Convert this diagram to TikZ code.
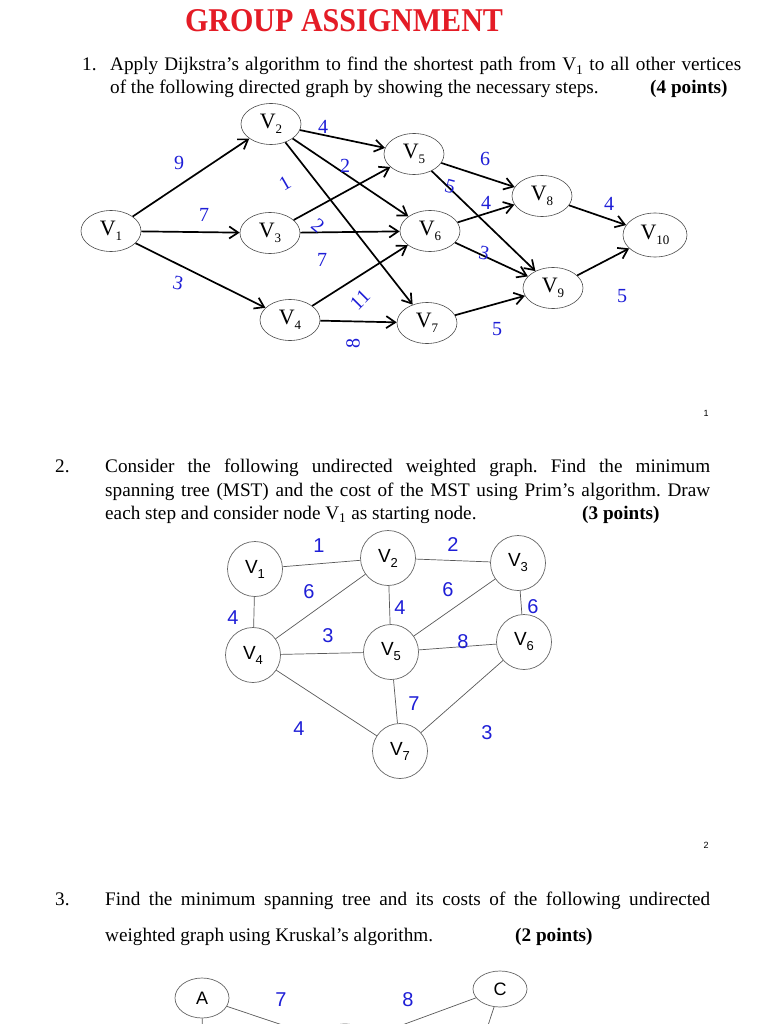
\documentclass[tikz,border=0pt]{standalone}
\usepackage{fontspec}
\setmainfont{Liberation Serif}
\newfontfamily\sansf{Liberation Sans}
\usepackage{graphicx}
\usetikzlibrary{shapes.geometric,arrows.meta}
\definecolor{wblue}{RGB}{30,30,215}
\definecolor{tred}{RGB}{228,28,38}
\newcommand{\vsubr}[1]{V\raisebox{-5pt}{\fontsize{13}{13}\selectfont #1}}
\newcommand{\vsubs}[1]{V\raisebox{-5pt}{\fontsize{13}{13}\selectfont #1}}
\frenchspacing
\begin{document}
\begin{tikzpicture}[x=1pt,y=-1pt,
  txt/.style={anchor=base west, inner sep=0, font=\fontsize{19.2}{23}\selectfont},
  dnode/.style={ellipse, draw=black!70, line width=0.6pt, minimum width=60pt, minimum height=41pt, inner sep=0, font=\fontsize{22}{26}\selectfont},
  darr/.style={-{Straight Barb[length=9pt,width=12pt]}, line width=1.7pt},
  wlab/.style={text=wblue, inner sep=0, font=\fontsize{20}{22}\selectfont},
  pnode/.style={circle, draw=black!60, line width=0.7pt, minimum size=55pt, inner sep=0, font=\sansf\fontsize{19}{22}\selectfont},
  pedge/.style={draw=black!65, line width=0.7pt},
  plab/.style={text=wblue, inner sep=0, font=\sansf\fontsize{20}{24}\selectfont},
  pgnum/.style={inner sep=0, font=\sansf\fontsize{9}{10}\selectfont},
  knode/.style={ellipse, draw=black!60, line width=0.7pt, inner sep=0, font=\sansf\fontsize{18}{22}\selectfont}
]
\useasboundingbox (0,0) rectangle (768,1024);
\fill[white] (0,0) rectangle (768,1024);

% title
\node[anchor=base, inner sep=0, text=tred] (title) at (344,32) {\resizebox{318pt}{22pt}{\bfseries GROUP ASSIGNMENT}};

% problem 1 text
\node[txt] (n1) at (82,71) {1.};
\node[txt] (l1a) at (110,71) {\makebox[631pt][s]{Apply Dijkstra’s algorithm to find the shortest path from V\textsubscript{1} to all other vertices}};
\node[txt] (l1b) at (110,94) {of the following directed graph by showing the necessary steps.};
\node[txt] (pt1) at (650,94) {\textbf{(4 points)}};

% graph 1 nodes
\node[dnode] (v1) at (111,231) {\vsubr{1}};
\node[dnode] (v2) at (271,124) {\vsubr{2}};
\node[dnode] (v3) at (270,233) {\vsubr{3}};
\node[dnode] (v4) at (290,320) {\vsubr{4}};
\node[dnode] (v5) at (414,154) {\vsubr{5}};
\node[dnode] (v6) at (430,231) {\vsubr{6}};
\node[dnode] (v7) at (427,323) {\vsubr{7}};
\node[dnode] (v8) at (542,196) {\vsubr{8}};
\node[dnode] (v9) at (553,288) {\vsubr{9}};
\node[dnode, minimum width=64pt, minimum height=44pt] (v10) at (655,235) {\vsubr{10}};

% graph 1 edges
\draw[darr] (v1) -- (v2);
\draw[darr] (v1) -- (v3);
\draw[darr] (v1) -- (v4);
\draw[darr] (v2) -- (v5);
\draw[darr] (v2) -- (v6);
\draw[darr] (v2) -- (v7);
\draw[darr] (v3) -- (v5);
\draw[darr] (v3) -- (v6);
\draw[darr] (v4) -- (v6);
\draw[darr] (v4) -- (v7);
\draw[darr] (v5) -- (v8);
\draw[darr] (v5) -- (v9);
\draw[darr] (v6) -- (v8);
\draw[darr] (v6) -- (v9);
\draw[darr] (v7) -- (v9);
\draw[darr] (v8) -- (v10);
\draw[darr] (v9) -- (v10);

% graph 1 weights
\node[wlab] (w12) at (179,163) {9};
\node[wlab] (w13) at (204,215) {7};
\node[wlab, rotate=-12] (w14) at (178,283) {3};
\node[wlab] (w25) at (323,127) {4};
\node[wlab, rotate=30] (w27) at (285,183) {1};
\node[wlab] (w26) at (345,166) {2};
\node[wlab, rotate=-40] (w35) at (318,226) {2};
\node[wlab] (w36) at (322,260) {7};
\node[wlab, rotate=45] (w46) at (360,300) {11};
\node[wlab, rotate=90] (w47) at (353,343) {8};
\node[wlab] (w58) at (485,159) {6};
\node[wlab, rotate=-15] (w59) at (450,187) {5};
\node[wlab] (w68) at (486,203) {4};
\node[wlab, rotate=-12] (w69) at (484,253) {3};
\node[wlab] (w810) at (609,204) {4};
\node[wlab] (w910) at (622,296) {5};
\node[wlab] (w79) at (497,329) {5};

\node[pgnum] (pg1) at (706,413) {1};

% problem 2 text
\node[txt] (n2) at (55,472) {2.};
\node[txt] (l2a) at (105,472) {\makebox[605pt][s]{Consider the following undirected weighted graph. Find the minimum}};
\node[txt] (l2b) at (105,496) {\makebox[605pt][s]{spanning tree (MST) and the cost of the MST using Prim’s algorithm. Draw}};
\node[txt] (l2c) at (105,519) {each step and consider node V\textsubscript{1} as starting node.};
\node[txt] (pt2) at (582,519) {\textbf{(3 points)}};

% graph 2
\node[pnode] (p1) at (255,569) {\vsubs{1}};
\node[pnode] (p2) at (388,558) {\vsubs{2}};
\node[pnode] (p3) at (518,563) {\vsubs{3}};
\node[pnode] (p4) at (253,655) {\vsubs{4}};
\node[pnode] (p5) at (391,652) {\vsubs{5}};
\node[pnode] (p6) at (524,642) {\vsubs{6}};
\node[pnode] (p7) at (400,751) {\vsubs{7}};
\draw[pedge] (p1) -- (p2);
\draw[pedge] (p2) -- (p3);
\draw[pedge] (p1) -- (p4);
\draw[pedge] (p2) -- (p4);
\draw[pedge] (p2) -- (p5);
\draw[pedge] (p3) -- (p5);
\draw[pedge] (p3) -- (p6);
\draw[pedge] (p4) -- (p5);
\draw[pedge] (p5) -- (p6);
\draw[pedge] (p4) -- (p7);
\draw[pedge] (p5) -- (p7);
\draw[pedge] (p6) -- (p7);
\node[plab] (q12) at (319,546) {1};
\node[plab] (q23) at (453,545) {2};
\node[plab] (q24) at (309,592) {6};
\node[plab] (q25) at (400,608) {4};
\node[plab] (q35) at (448,590) {6};
\node[plab] (q36) at (533,607) {6};
\node[plab] (q14) at (233,618) {4};
\node[plab] (q45) at (328,636) {3};
\node[plab] (q56) at (463,642) {8};
\node[plab] (q57) at (414,704) {7};
\node[plab] (q47) at (299,729) {4};
\node[plab] (q67) at (487,733) {3};

\node[pgnum] (pg2) at (706,845) {2};

% problem 3 text
\node[txt] (n3) at (55,905) {3.};
\node[txt] (l3a) at (105,905) {\makebox[605pt][s]{Find the minimum spanning tree and its costs of the following undirected}};
\node[txt] (l3b) at (105,941) {weighted graph using Kruskal’s algorithm.};
\node[txt] (pt3) at (515,941) {\textbf{(2 points)}};

% graph 3 (partial)
\node[knode, minimum width=54pt, minimum height=40pt] (ka) at (202,998) {A};
\node[knode, minimum width=54pt, minimum height=36pt] (kc) at (500,989) {C};
\node[knode, minimum width=58pt, minimum height=44pt] (kb) at (345,1046) {};
\coordinate (kad) at (203,1090);
\coordinate (kcd) at (470,1080);
\draw[pedge] (ka) -- (kb);
\draw[pedge] (kc) -- (kb);
\draw[pedge] (ka) -- (kad);
\draw[pedge] (kc) -- (kcd);
\node[plab] (k7) at (281,1000) {7};
\node[plab] (k8) at (408,1000) {8};
\end{tikzpicture}
\end{document}
